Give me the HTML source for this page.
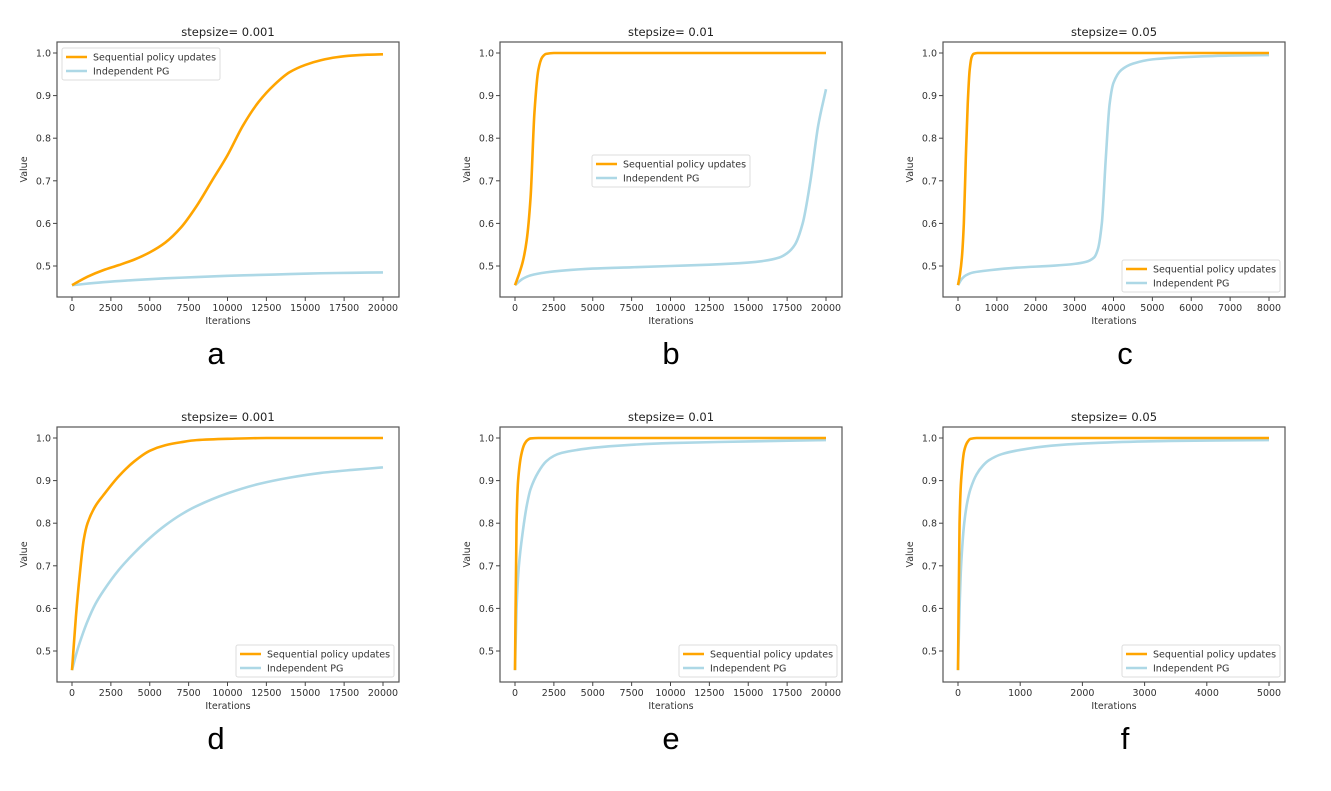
<!DOCTYPE html>
<html><head><meta charset="utf-8">
<style>
body{margin:0;background:#fff;width:1331px;height:786px;overflow:hidden;font-family:"Liberation Sans","DejaVu Sans",sans-serif;}
svg text{font-family:"DejaVu Sans","Liberation Sans",sans-serif;}
</style></head>
<body>
<svg id="fig" width="1331" height="786" viewBox="0 0 1331 786" xmlns="http://www.w3.org/2000/svg"></svg>
<script>
const panelLetters = ['a','b','c','d','e','f'];
const panelTitles = ['stepsize= 0.001','stepsize= 0.01','stepsize= 0.05','stepsize= 0.001','stepsize= 0.01','stepsize= 0.05'];
const panelXMax = [20000,20000,8000,20000,20000,5000];
const xTicks20k = [0,2500,5000,7500,10000,12500,15000,17500,20000];
const xTicks8k = [0,1000,2000,3000,4000,5000,6000,7000,8000];
const xTicks5k = [0,1000,2000,3000,4000,5000];
const yTicks = [0.5,0.6,0.7,0.8,0.9,1.0];
const legendPos = ['upper-left','center','lower-right','lower-right','lower-right','lower-right'];

const seqA_x = [0,1000,2000,3000,4000,5000,6000,7000,8000,9000,10000,11000,12000,13000,14000,15000,16000,17000,18000,19000,20000];
const seqA_y = [0.455,0.475,0.49,0.502,0.515,0.532,0.555,0.59,0.64,0.70,0.76,0.83,0.885,0.925,0.955,0.972,0.983,0.99,0.994,0.996,0.997];
const indA_x = [0,2000,4000,6000,8000,10000,12000,14000,16000,18000,20000];
const indA_y = [0.455,0.462,0.467,0.471,0.474,0.477,0.479,0.481,0.483,0.484,0.485];

const seqB_x = [0,250,500,750,1000,1250,1500,1750,2000,2500,20000];
const seqB_y = [0.455,0.48,0.51,0.56,0.66,0.86,0.96,0.99,0.998,1.0,1.0];
const indB_x = [0,500,1000,2000,3000,5000,7500,10000,12500,15000,16000,17000,17500,18000,18500,19000,19500,20000];
const indB_y = [0.455,0.47,0.478,0.485,0.489,0.494,0.497,0.5,0.503,0.508,0.512,0.52,0.53,0.55,0.6,0.7,0.83,0.915];

const seqC_x = [0,50,100,150,200,250,300,350,400,500,8000];
const seqC_y = [0.455,0.48,0.52,0.6,0.75,0.88,0.96,0.99,0.998,1.0,1.0];
const indC_x = [0,100,200,400,800,1500,2500,3000,3300,3500,3600,3700,3800,3900,4000,4200,4500,5000,6000,7000,8000];
const indC_y = [0.455,0.47,0.478,0.485,0.49,0.496,0.501,0.505,0.51,0.52,0.54,0.6,0.75,0.88,0.93,0.96,0.975,0.985,0.991,0.994,0.995];

const seqD_x = [0,250,500,750,1000,1500,2000,3000,4000,5000,6000,7000,8000,10000,12500,20000];
const seqD_y = [0.455,0.58,0.68,0.76,0.80,0.84,0.865,0.91,0.945,0.97,0.983,0.99,0.995,0.998,1.0,1.0];
const indD_x = [0,250,500,1000,1500,2000,3000,4000,5000,6000,7000,8000,10000,12000,14000,16000,18000,20000];
const indD_y = [0.455,0.49,0.52,0.57,0.61,0.64,0.69,0.73,0.765,0.795,0.82,0.84,0.87,0.892,0.907,0.918,0.925,0.931];

const seqE_x = [0,100,200,400,600,800,1000,1500,20000];
const seqE_y = [0.455,0.8,0.9,0.96,0.985,0.995,0.999,1.0,1.0];
const indE_x = [0,100,250,500,750,1000,1500,2000,2500,3000,4000,5000,7500,10000,15000,20000];
const indE_y = [0.455,0.6,0.7,0.78,0.84,0.88,0.92,0.945,0.958,0.965,0.972,0.977,0.984,0.988,0.992,0.995];

const seqF_x = [0,25,50,100,150,200,300,5000];
const seqF_y = [0.455,0.8,0.9,0.97,0.99,0.998,1.0,1.0];
const indF_x = [0,25,50,100,150,200,300,400,500,700,1000,1500,2000,3000,4000,5000];
const indF_y = [0.455,0.6,0.7,0.8,0.85,0.88,0.915,0.935,0.948,0.962,0.972,0.982,0.987,0.992,0.994,0.995];

const seqX=[seqA_x,seqB_x,seqC_x,seqD_x,seqE_x,seqF_x], seqY=[seqA_y,seqB_y,seqC_y,seqD_y,seqE_y,seqF_y];
const indX=[indA_x,indB_x,indC_x,indD_x,indE_x,indF_x], indY=[indA_y,indB_y,indC_y,indD_y,indE_y,indF_y];
const xTickSets=[xTicks20k,xTicks20k,xTicks8k,xTicks20k,xTicks20k,xTicks5k];

const NS='http://www.w3.org/2000/svg';
const svg=document.getElementById('fig');
function mk(tag,attrs,parent){const e=document.createElementNS(NS,tag);for(const k in attrs)e.setAttribute(k,attrs[k]);(parent||svg).appendChild(e);return e;}

function monoPath(px,py){
  const n=px.length; if(n<2)return '';
  const d=[],m=new Array(n);
  for(let i=0;i<n-1;i++)d.push((py[i+1]-py[i])/(px[i+1]-px[i]));
  m[0]=d[0];m[n-1]=d[n-2];
  for(let i=1;i<n-1;i++){ if(d[i-1]*d[i]<=0)m[i]=0; else m[i]=2/(1/d[i-1]+1/d[i]); }
  let s='M'+px[0].toFixed(2)+','+py[0].toFixed(2);
  for(let i=0;i<n-1;i++){const h=px[i+1]-px[i];
    s+=' C'+(px[i]+h/3).toFixed(2)+','+(py[i]+m[i]*h/3).toFixed(2)+' '+(px[i+1]-h/3).toFixed(2)+','+(py[i+1]-m[i+1]*h/3).toFixed(2)+' '+px[i+1].toFixed(2)+','+py[i+1].toFixed(2);}
  return s;
}

const lefts=[57,500,943], tops=[42,427];
const letterX=[216,671,1125];
const W=342,H=255;
for(let p=0;p<6;p++){
  const L=lefts[p%3], T=tops[Math.floor(p/3)];
  const xmax=panelXMax[p];
  const sx=v=>L+15+v/xmax*311;
  const sy=v=>T+11+(1-v)*426;
  const g=mk('g',{});
  
  
  const t=mk('text',{x:L+W/2,y:T-6,'text-anchor':'middle','font-size':'11.5',fill:'#222'},g);
  
  
  t.textContent=panelTitles[p];
  const fr=mk('rect',{x:L,y:T,width:W,height:H,fill:'#fff',stroke:'#555','stroke-width':1.2},g);
  
  
  xTickSets[p].forEach(v=>{
    mk('line',{x1:sx(v),x2:sx(v),y1:T+H,y2:T+H+4,stroke:'#444'},g);
    const tx=mk('text',{x:sx(v),y:T+H+14,'text-anchor':'middle','font-size':'9.5',fill:'#333'},g);
    
    
    tx.textContent=v;
  });
  yTicks.forEach(v=>{
    mk('line',{x1:L-4,x2:L,y1:sy(v),y2:sy(v),stroke:'#444'},g);
    const ty=mk('text',{x:L-6,y:sy(v)+3.5,'text-anchor':'end','font-size':'9.5',fill:'#333'},g);
    
    
    ty.textContent=v.toFixed(1);
  });
  const xl=mk('text',{x:L+W/2,y:T+H+27,'text-anchor':'middle','font-size':'9.5',fill:'#333'},g);
  
  
  xl.textContent='Iterations';
  const yl=mk('text',{x:0,y:0,'text-anchor':'middle','font-size':'9.5',fill:'#333',transform:'translate('+(L-30)+','+(T+H/2)+') rotate(-90)'},g);
  
  
  yl.textContent='Value';
  const pi=mk('path',{d:monoPath(indX[p].map(sx),indY[p].map(sy)),fill:'none',stroke:'#ADD8E6','stroke-width':2.6,'stroke-linejoin':'round'},g);
  
  
  const ps=mk('path',{d:monoPath(seqX[p].map(sx),seqY[p].map(sy)),fill:'none',stroke:'#FFA500','stroke-width':2.6,'stroke-linejoin':'round'},g);
  
  
  let lx,ly;
  if(legendPos[p]==='upper-left'){lx=L+5;ly=T+6;}
  else if(legendPos[p]==='center'){lx=L+92;ly=T+113;}
  else {lx=L+337-158;ly=T+250-32;}
  const lg=mk('g',{},g);
  
  
  mk('rect',{x:lx,y:ly,width:158,height:32,fill:'#fff',stroke:'#ddd','stroke-width':1,rx:2},lg);
  mk('line',{x1:lx+4,x2:lx+25,y1:ly+9,y2:ly+9,stroke:'#FFA500','stroke-width':2.6},lg);
  mk('line',{x1:lx+4,x2:lx+25,y1:ly+23,y2:ly+23,stroke:'#ADD8E6','stroke-width':2.6},lg);
  const l1=mk('text',{x:lx+31,y:ly+12.5,'font-size':'9.5',fill:'#333'},lg);
  
  
  l1.textContent='Sequential policy updates';
  const l2=mk('text',{x:lx+31,y:ly+26.5,'font-size':'9.5',fill:'#333'},lg);
  
  
  l2.textContent='Independent PG';
  const lt=mk('text',{x:letterX[p%3],y:T+322,'text-anchor':'middle','font-size':'31',fill:'#000'},g);
  lt.setAttribute('style','font-family:"Liberation Sans",sans-serif');
  
  
  lt.textContent=panelLetters[p];
}
</script>
</body></html>
